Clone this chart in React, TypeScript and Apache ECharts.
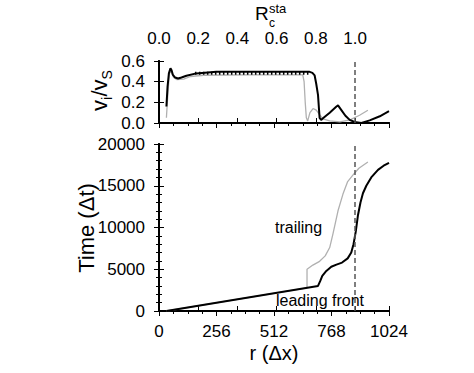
import React, { useEffect, useRef } from "react";
import * as echarts from "echarts";

// ---- data ----
const R_MAX = 1024;
const R_STATIONARY = 873; // r where R_c^sta = 1 (dashed line)

// top panel: v_i / v_S  (black = leading front, gray = trailing)
const topBlackR = [33, 38, 44, 51, 56, 62, 72, 85, 100, 122, 166, 255, 400, 668, 683, 693, 700, 708, 715, 722, 730, 760, 790, 797, 812, 830, 849, 871, 901, 938, 983, 1024];
const topBlackV = [0.16, 0.35, 0.48, 0.53, 0.51, 0.465, 0.44, 0.43, 0.44, 0.457, 0.48, 0.495, 0.497, 0.497, 0.485, 0.46, 0.38, 0.27, 0.05, 0.03, 0.045, 0.1, 0.16, 0.17, 0.125, 0.07, 0.03, 0.01, 0.0, 0.025, 0.065, 0.114];

const topTeethR = [160, 668];
const topTeethV = [0.482, 0.482];

const topGrayR = [33, 40, 46, 51, 57, 65, 80, 110, 140, 200, 400, 640, 646, 651, 656, 662, 672, 686, 700, 715, 730, 760, 805, 850, 893, 930];
const topGrayV = [0.05, 0.3, 0.47, 0.51, 0.48, 0.44, 0.42, 0.425, 0.45, 0.462, 0.465, 0.465, 0.4, 0.2, 0.05, 0.02, 0.1, 0.14, 0.125, 0.08, 0.04, 0.02, 0.01, 0.03, 0.075, 0.124];

// bottom panel: time (Δt)
const botBlackR = [33, 708, 718, 727, 745, 767, 790, 815, 840, 856, 866, 876, 886, 897, 908, 923, 945, 975, 1000, 1024];
const botBlackT = [0, 3000, 3600, 4200, 4800, 5300, 5550, 5800, 6300, 7000, 8000, 9500, 11500, 13000, 14100, 15000, 16000, 16900, 17400, 17750];

const botGrayR = [33, 659, 659, 685, 715, 740, 760, 775, 797, 819, 840, 864, 890, 930];
const botGrayT = [0, 2780, 5000, 5500, 5950, 6600, 7600, 9300, 12000, 14000, 15500, 16300, 17100, 17850];

const FONT = '"Liberation Sans", Arial, Helvetica, sans-serif';

const zip = (a: number[], b: number[]) => a.map((v, i) => [v, b[i]]);

function txt(text: string, x: number, y: number, size: number, align = "left", extra: any = {}) {
  return {
    type: "text",
    x,
    y,
    silent: true,
    ...extra,
    style: {
      text,
      fill: "#000",
      font: `${size}px ${FONT}`,
      align,
      textAlign: align,
      verticalAlign: "middle",
      textVerticalAlign: "middle",
    },
  };
}

export default function App() {
  const ref = useRef<HTMLDivElement>(null);
  useEffect(() => {
    if (!ref.current) return;
    const chart = echarts.init(ref.current, undefined, { renderer: "svg" });
    const axisLine = { show: true, lineStyle: { color: "#000", width: 2 } };
    const tick = (len: number) => ({ show: true, length: len, lineStyle: { color: "#000", width: 1 } });
    const minor = (n: number) => ({ show: true, splitNumber: n, length: 3, lineStyle: { color: "#000", width: 1 } });
    const lbl = (show: boolean, margin: number, fmt?: (v: number) => string) => ({
      show,
      margin,
      color: "#000",
      fontSize: 17,
      fontFamily: FONT,
      formatter: fmt,
    });
    const Rmax = R_MAX / R_STATIONARY;
    const dashed = {
      symbol: "none",
      silent: true,
      label: { show: false },
      lineStyle: { type: [5, 3], color: "#555", width: 1.5 },
      data: [{ xAxis: R_STATIONARY }],
    };

    const option: any = {
      animation: false,
      backgroundColor: "#fff",
      grid: [
        { left: 159, top: 61, width: 230, height: 62, containLabel: false },
        { left: 159, top: 144, width: 230, height: 167, containLabel: false },
      ],
      xAxis: [
        {
          gridIndex: 0, type: "value", position: "bottom", min: 0, max: R_MAX, interval: 256,
          axisLine, axisTick: tick(5), minorTick: minor(4),
          axisLabel: lbl(false, 8), splitLine: { show: false }, minorSplitLine: { show: false },
        },
        {
          gridIndex: 0, type: "value", position: "top", min: 0, max: Rmax, interval: 0.2,
          axisLine, axisTick: tick(5),
          axisLabel: { ...lbl(true, 14, (v: number) => v.toFixed(1)), showMaxLabel: false },
          splitLine: { show: false },
        },
        {
          gridIndex: 1, type: "value", position: "top", min: 0, max: Rmax, interval: 0.2,
          axisLine, axisTick: tick(5), axisLabel: lbl(false, 8), splitLine: { show: false },
        },
        {
          gridIndex: 1, type: "value", position: "bottom", min: 0, max: R_MAX, interval: 256,
          axisLine, axisTick: tick(5), minorTick: minor(4),
          axisLabel: { ...lbl(true, 12, (v: number) => String(v)), showMaxLabel: true, showMinLabel: true },
          splitLine: { show: false }, minorSplitLine: { show: false },
        },
      ],
      yAxis: [
        {
          gridIndex: 0, type: "value", position: "left", min: 0, max: 0.6, interval: 0.2,
          axisLine, axisTick: tick(5), axisLabel: lbl(true, 14, (v: number) => v.toFixed(1)), splitLine: { show: false },
        },
        {
          gridIndex: 0, type: "value", position: "right", min: 0, max: 0.6, interval: 0.2,
          axisLine, axisTick: tick(5), axisLabel: lbl(false, 8), splitLine: { show: false },
        },
        {
          gridIndex: 1, type: "value", position: "left", min: 0, max: 20000, interval: 5000,
          axisLine, axisTick: tick(5), minorTick: minor(5),
          axisLabel: lbl(true, 14, (v: number) => String(v)), splitLine: { show: false }, minorSplitLine: { show: false },
        },
        {
          gridIndex: 1, type: "value", position: "right", min: 0, max: 20000, interval: 5000,
          axisLine, axisTick: tick(5), minorTick: minor(5),
          axisLabel: lbl(false, 8), splitLine: { show: false }, minorSplitLine: { show: false },
        },
      ],
      series: [
        {
          type: "line", xAxisIndex: 0, yAxisIndex: 0, showSymbol: false, symbol: "none",
          data: zip(topGrayR, topGrayV), lineStyle: { color: "#b0b0b0", width: 1.3 }, z: 2,
          markLine: dashed,
        },
        {
          type: "line", xAxisIndex: 0, yAxisIndex: 0, showSymbol: false, symbol: "none",
          data: zip(topTeethR, topTeethV), lineStyle: { color: "#000", width: 3, type: [1.5, 2.5] }, z: 3,
        },
        {
          type: "line", xAxisIndex: 0, yAxisIndex: 0, showSymbol: false, symbol: "none",
          data: zip(topBlackR, topBlackV), lineStyle: { color: "#000", width: 2 }, z: 4,
        },
        {
          type: "line", xAxisIndex: 3, yAxisIndex: 2, showSymbol: false, symbol: "none",
          data: zip(botGrayR, botGrayT), lineStyle: { color: "#b0b0b0", width: 1.3 }, z: 2,
          markLine: dashed,
        },
        {
          type: "line", xAxisIndex: 3, yAxisIndex: 2, showSymbol: false, symbol: "none",
          data: zip(botBlackR, botBlackT), lineStyle: { color: "#000", width: 2 }, z: 4,
        },
      ],
      graphic: [
        txt("R", 255, 13, 19),
        txt("sta", 269, 8, 13),
        txt("c", 269, 22.5, 12),
        {
          type: "group", x: 99, y: 91, rotation: Math.PI / 2, silent: true,
          children: [
            txt("v", -20, 0, 22),
            txt("i", -9, 8, 14),
            txt("/", -5.5, 0, 22),
            txt("v", 0.6, 0, 22),
            txt("S", 11.6, 8, 14),
          ],
        },
        txt("Time (\u0394t)", 86, 228, 22, "center", { rotation: Math.PI / 2 }),
        txt("r (\u0394x)", 274, 353, 20, "center"),
        txt("trailing", 275, 227, 16),
        txt("leading front", 276, 300, 16),
      ],
    };
    chart.setOption(option);
    return () => chart.dispose();
  }, []);
  return <div ref={ref} style={{ position: "fixed", left: 0, top: 0, width: 474, height: 373 }} />;
}
